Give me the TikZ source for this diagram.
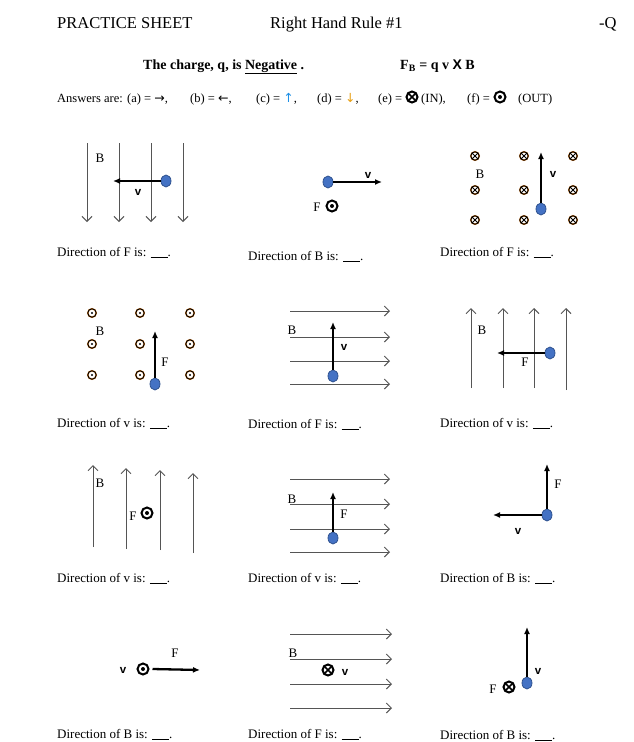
\documentclass[tikz,border=0pt]{standalone}
\usepackage{fontspec}
\setmainfont{Liberation Serif}
\setsansfont{Liberation Sans}
\newfontfamily\arrowfont{DejaVu Sans}
\usetikzlibrary{arrows.meta,shapes.geometric}

\definecolor{chargeblue}{RGB}{68,114,196}
\definecolor{chargeedge}{RGB}{47,82,143}
\definecolor{fieldgray}{RGB}{85,85,85}
\definecolor{upblue}{RGB}{30,144,230}
\definecolor{downgold}{RGB}{232,160,20}
\definecolor{rimorange}{RGB}{215,125,35}

\newcommand{\answerline}{\underline{\hspace{17pt}}}

\begin{document}
\begin{tikzpicture}[x=1pt,y=-1pt]
        \tikzstyle{head} = [anchor=base west, inner sep=0pt, font=\fontsize{16.5}{19}\selectfont]
        \tikzstyle{boldline} = [anchor=base west, inner sep=0pt, font=\bfseries\fontsize{14}{16}\selectfont]
        \tikzstyle{txt} = [anchor=base west, inner sep=0pt, font=\fontsize{13}{15}\selectfont]
        \tikzstyle{anstxt} = [anchor=base west, inner sep=0pt, font=\fontsize{12.5}{14}\selectfont]
        \tikzstyle{sym} = [inner sep=0pt, font=\fontsize{13}{15}\selectfont]
        \tikzstyle{vlab} = [inner sep=0pt, font=\sffamily\bfseries\fontsize{11.5}{13}\selectfont]
        \tikzstyle{charge} = [ellipse, draw=chargeedge, fill=chargeblue, line width=0.8pt, minimum width=10pt, minimum height=12pt, inner sep=0pt]
        \tikzstyle{vec} = [-{Latex[length=7pt,width=6pt]}, line width=1.8pt]
        \tikzstyle{field} = [-{Straight Barb[length=5pt,width=10pt]}, line width=1pt, draw=fieldgray]
        \tikzstyle{outbig} = [circle, draw, line width=2pt, minimum size=11pt, inner sep=0pt, path picture={\fill (path picture bounding box.center) circle (2pt);}]
        \tikzstyle{inbig} = [circle, draw, line width=2pt, minimum size=11pt, inner sep=0pt, path picture={\draw[line width=1.6pt] (path picture bounding box.north west) -- (path picture bounding box.south east) (path picture bounding box.north east) -- (path picture bounding box.south west);}]
        \tikzstyle{outsmall} = [circle, draw=black, line width=0.9pt, minimum size=8.5pt, inner sep=0pt, preaction={draw=rimorange, line width=1.5pt}, path picture={\fill (path picture bounding box.center) circle (1.1pt);}]
        \tikzstyle{insmall} = [circle, draw=black, line width=0.9pt, minimum size=8.5pt, inner sep=0pt, preaction={draw=rimorange, line width=1.5pt}, path picture={\draw[line width=0.8pt] (path picture bounding box.north west) -- (path picture bounding box.south east) (path picture bounding box.north east) -- (path picture bounding box.south west);}]

        \fill[white] (0,0) rectangle (634,742);
        \useasboundingbox (0,0) rectangle (634,742);

        % header
        \node[head] (title) at (57,28) {PRACTICE SHEET};
        \node[head] (rule) at (270,28) {Right Hand Rule \#1};
        \node[head] (sign) at (599,28) {-Q};
        \node[boldline] (charge) at (143,69) {The charge, q, is \underline{Negative} .};
        \node[boldline] (force) at (400,69) {F\textsubscript{B} = q v {\sffamily X} B};
        \node[anstxt] (ans) at (57,102) {Answers are:};
        \node[anstxt] (ansa) at (127,102) {(a) = {\arrowfont →},};
        \node[anstxt] (ansb) at (190,102) {(b) = {\arrowfont ←},};
        \node[anstxt] (ansc) at (256,102) {(c) = \textcolor{upblue}{\arrowfont ↑},};
        \node[anstxt] (ansd) at (317,102) {(d) = \textcolor{downgold}{\arrowfont ↓},};
        \node[anstxt] (anse) at (378,102) {(e) =};
        \node[inbig] (ansein) at (412,97) {};
        \node[anstxt] (anseword) at (421,102) {(IN),};
        \node[anstxt] (ansf) at (467,102) {(f) =};
        \node[outbig] (ansfout) at (500,97) {};
        \node[anstxt] (ansfword) at (518,102) {(OUT)};

        % row 1
        \draw[field] (87,143) -- (87,222);
        \draw[field] (119,143) -- (119,222);
        \draw[field] (151,143) -- (151,222);
        \draw[field] (183,143) -- (183,222);
        \node[sym] (b1) at (100,158) {B};
        \node[charge] (q1) at (166,181) {};
        \coordinate (v1) at (113,181);
        \draw[vec] (q1) -- (v1);
        \node[vlab] (lv1) at (138,192) {v};
        \node[txt] (d1) at (57,256) {Direction of F is: \answerline.};

        \node[charge] (q2) at (328,182) {};
        \coordinate (v2) at (382,182);
        \draw[vec] (q2) -- (v2);
        \node[vlab] (lv2) at (368,175) {v};
        \node[sym] (f2) at (317,207) {F};
        \node[outbig] (o2) at (332,206) {};
        \node[txt] (d2) at (248,260) {Direction of B is: \answerline.};

        \node[insmall] (x31) at (475,156) {};
        \node[insmall] (x32) at (524,156) {};
        \node[insmall] (x33) at (573,156) {};
        \node[insmall] (x34) at (475,190) {};
        \node[insmall] (x35) at (524,190) {};
        \node[insmall] (x36) at (573,190) {};
        \node[insmall] (x37) at (475,220) {};
        \node[insmall] (x38) at (524,220) {};
        \node[insmall] (x39) at (573,220) {};
        \node[sym] (b3) at (480,174) {B};
        \node[charge] (q3) at (541,209) {};
        \coordinate (v3) at (541,152);
        \draw[vec] (q3) -- (v3);
        \node[vlab] (lv3) at (553,174) {v};
        \node[txt] (d3) at (440,256) {Direction of F is: \answerline.};

        % row 2
        \node[outsmall] (o41) at (92,313) {};
        \node[outsmall] (o42) at (140,313) {};
        \node[outsmall] (o43) at (190,313) {};
        \node[outsmall] (o44) at (92,344) {};
        \node[outsmall] (o45) at (140,344) {};
        \node[outsmall] (o46) at (190,344) {};
        \node[outsmall] (o47) at (92,375) {};
        \node[outsmall] (o48) at (140,375) {};
        \node[outsmall] (o49) at (190,375) {};
        \node[sym] (b4) at (100,331) {B};
        \node[charge] (q4) at (155,384) {};
        \coordinate (f4end) at (155,331);
        \draw[vec] (q4) -- (f4end);
        \node[sym] (f4) at (165,362) {F};
        \node[txt] (d4) at (57,427) {Direction of v is: \answerline.};

        \draw[field] (290,311) -- (390,311);
        \draw[field] (290,337) -- (390,337);
        \draw[field] (290,361) -- (390,361);
        \draw[field] (290,384) -- (390,384);
        \node[sym] (b5) at (292,330) {B};
        \node[charge] (q5) at (333,376) {};
        \coordinate (v5) at (333,322);
        \draw[vec] (q5) -- (v5);
        \node[vlab] (lv5) at (344,347) {v};
        \node[txt] (d5) at (248,428) {Direction of F is: \answerline.};

        \draw[field] (471,388) -- (471,308);
        \draw[field] (503,388) -- (503,308);
        \draw[field] (534,388) -- (534,308);
        \draw[field] (566,390) -- (566,308);
        \node[sym] (b6) at (482,330) {B};
        \node[charge] (q6) at (550,353) {};
        \coordinate (f6end) at (497,353);
        \draw[vec] (q6) -- (f6end);
        \node[sym] (f6) at (525,362) {F};
        \node[txt] (d6) at (440,427) {Direction of v is: \answerline.};

        % row 3
        \draw[field] (93,547) -- (93,465);
        \draw[field] (126,549) -- (126,468);
        \draw[field] (160,550) -- (160,470);
        \draw[field] (193,553) -- (193,473);
        \node[sym] (b7) at (100,483) {B};
        \node[sym] (f7) at (133,516) {F};
        \node[outbig] (o7) at (147,513) {};
        \node[txt] (d7) at (57,582) {Direction of v is: \answerline.};

        \draw[field] (290,479) -- (390,479);
        \draw[field] (290,504) -- (390,504);
        \draw[field] (290,529) -- (390,529);
        \draw[field] (290,552) -- (390,552);
        \node[sym] (b8) at (292,499) {B};
        \node[charge] (q8) at (333,538) {};
        \coordinate (f8end) at (333,492);
        \draw[vec] (q8) -- (f8end);
        \node[sym] (f8) at (344,514) {F};
        \node[txt] (d8) at (248,582) {Direction of v is: \answerline.};

        \node[charge] (q9) at (547,515) {};
        \coordinate (f9end) at (547,464);
        \coordinate (v9) at (493,515);
        \draw[vec] (q9) -- (f9end);
        \draw[vec] (q9) -- (v9);
        \node[sym] (f9) at (558,484) {F};
        \node[vlab] (lv9) at (518,531) {v};
        \node[txt] (d9) at (440,582) {Direction of B is: \answerline.};

        % row 4
        \node[vlab] (lv10) at (123,670) {v};
        \node[outbig] (o10) at (143,669) {};
        \coordinate (f10end) at (200,670);
        \draw[vec, line width=2.3pt] ([xshift=3pt]o10.east) -- (f10end);
        \node[sym] (f10) at (175,653) {F};
        \node[txt] (d10) at (57,738) {Direction of B is: \answerline.};

        \draw[field] (290,634) -- (392,634);
        \draw[field] (290,659) -- (392,659);
        \draw[field] (290,684) -- (392,684);
        \draw[field] (290,708) -- (392,708);
        \node[sym] (b11) at (293,653) {B};
        \node[inbig] (x11) at (328,670) {};
        \node[vlab] (lv11) at (345,672) {v};
        \node[txt] (d11) at (248,738) {Direction of F is: \answerline.};

        \node[charge] (q12) at (527,683) {};
        \coordinate (v12) at (527,627);
        \draw[vec] (q12) -- (v12);
        \node[vlab] (lv12) at (538,671) {v};
        \node[sym] (f12) at (493,689) {F};
        \node[inbig] (x12) at (509,687) {};
        \node[txt] (d12) at (440,739) {Direction of B is: \answerline.};

\end{tikzpicture}
\end{document}
